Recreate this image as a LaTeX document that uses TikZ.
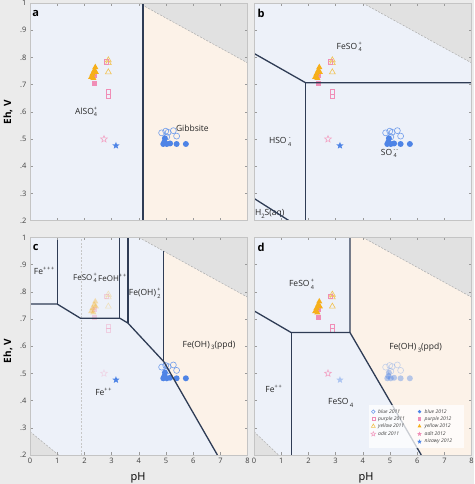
\documentclass[tikz,border=0pt]{standalone}
\usepackage{fontspec}
\setmainfont{Open Sans}
\usetikzlibrary{shapes.geometric}
\definecolor{bgc}{HTML}{EBEBEB}
\definecolor{regblue}{HTML}{EDF1F9}
\definecolor{regpeach}{HTML}{FCF2E8}
\definecolor{reggray}{HTML}{E1E1E1}
\definecolor{bnd}{HTML}{2F3C55}
\definecolor{mblue}{HTML}{4E84E6}
\definecolor{mpink}{HTML}{F08DB6}
\definecolor{morange}{HTML}{F6AF1A}
\definecolor{myellow}{HTML}{F2C14E}
\definecolor{tickc}{HTML}{9A9A9A}
\definecolor{framec}{HTML}{C4C4C4}
\newcommand\chm[2]{\makebox[0pt][l]{\raisebox{0.85ex}{\fontsize{5.5}{6}\selectfont #1}}\raisebox{-0.55ex}{\fontsize{5.5}{6}\selectfont #2}}
\newcommand\chsup[1]{\raisebox{0.85ex}{\fontsize{5.5}{6}\selectfont #1}}
\newcommand\chsub[1]{\raisebox{-0.55ex}{\fontsize{6}{6}\selectfont #1}}
\tikzset{
 bline/.style={draw=bnd, line width=1.3pt, line join=miter},
 wline/.style={draw=black!32, dash pattern=on 2pt off 1.5pt, line width=0.5pt},
 lab/.style={font=\fontsize{8.5}{9}\selectfont, text=black!85, inner sep=0pt},
 plab/.style={font=\fontsize{11}{12}\selectfont\bfseries, inner sep=0pt},
 tlab/.style={font=\fontsize{7.5}{8}\selectfont, text=black!75, inner sep=0pt},
 leg/.style={font=\fontsize{5}{5}\selectfont\itshape, text=black!75, inner sep=0pt, anchor=west},
 mk/.style={inner sep=0pt, line width=0.6pt},
 b11/.style={mk, circle, draw=mblue!80, minimum size=6pt},
 b12/.style={mk, circle, fill=mblue, minimum size=6pt},
 p11/.style={mk, rectangle, draw=mpink, minimum width=3.8pt, minimum height=4.4pt},
 p12/.style={mk, rectangle, fill=mpink, minimum size=4.7pt},
 y11/.style={mk, regular polygon, regular polygon sides=3, draw=myellow, minimum size=6.8pt},
 y12/.style={mk, regular polygon, regular polygon sides=3, fill=morange, minimum size=7.2pt},
 a11/.style={mk, star, star points=5, star point ratio=2.3, draw=mpink!80, minimum size=7pt},
 a12/.style={mk, star, star points=5, star point ratio=2.3, fill=mpink, minimum size=6pt},
 n12/.style={mk, star, star points=5, star point ratio=2.3, fill=mblue, minimum size=7.5pt},
}
\newcommand\mydata[2]{%
 \begin{scope}[opacity=#1]
  \node[y11] at (2.88,0.78) {};
  \node[p11] at (2.80,0.784) {};
  \node[y11] at (2.88,0.79) {};
  \node[y11] at (2.88,0.746) {};
  \node[p11] at (2.88,0.674) {};
  \node[p11] at (2.88,0.658) {};
  \node[p12] at (2.36,0.705) {};
  \node[p12] at (2.36,0.735) {};
  \node[y12] at (2.25,0.728) {};
  \node[y12] at (2.33,0.724) {};
  \node[y12] at (2.30,0.740) {};
  \node[y12] at (2.36,0.752) {};
  \node[y12] at (2.42,0.746) {};
  \node[y12] at (2.40,0.764) {};
  \node[a11] at (2.72,0.50) {};
 \end{scope}
 \begin{scope}[opacity=#2]
  \node[n12] at (3.16,0.476) {};
  \node[b11] at (4.84,0.523) {};
  \node[b11] at (4.99,0.529) {};
  \node[b11] at (5.08,0.525) {};
  \node[b11] at (5.27,0.531) {};
  \node[b11] at (5.39,0.511) {};
  \node[b11] at (5.03,0.508) {};
  \node[b12] at (4.90,0.482) {};
  \node[b12] at (5.03,0.482) {};
  \node[b12] at (5.15,0.484) {};
  \node[b12] at (5.39,0.482) {};
  \node[b12] at (5.73,0.482) {};
  \node[b12] at (4.96,0.503) {};
  \node[b12] at (4.94,0.490) {};
 \end{scope}}
\newcommand\myframe{%
 \foreach \i in {1,...,7} {
  \draw[tickc, line width=0.4pt] (\i,0.2) -- ++(0,3pt);
  \draw[tickc, line width=0.4pt] (\i,1) -- ++(0,-3pt);}
 \foreach \e in {3,...,9} {
  \draw[tickc, line width=0.4pt] (0,\e/10) -- ++(3pt,0);
  \draw[tickc, line width=0.4pt] (8,\e/10) -- ++(-3pt,0);}
 \draw[framec, line width=0.5pt] (0,0.2) rectangle (8,1);}
\newcommand\myylabels{%
 \foreach \e/\t in {10/1,9/.9,8/.8,7/.7,6/.6,5/.5,4/.4,3/.3,2/.2}
  \node[tlab, anchor=east] at ([xshift=-3.5pt]0,\e/10) {\t};}
\newcommand\myxlabels{%
 \foreach \i in {0,...,8}
  \node[tlab, anchor=north] at ([yshift=-3pt]\i,0.2) {\i};}
\begin{document}
\begin{tikzpicture}
\useasboundingbox (0,0) rectangle (474pt,484pt);
\fill[bgc] (0,0) rectangle (474pt,484pt);
% ---------- panel a
\begin{scope}[shift={(30pt,208.9pt)},x=27.2pt,y=272pt]
 \begin{scope}
 \clip (0,0.2) rectangle (8,1);
 \fill[regblue] (0,0.2) rectangle (8,1);
 \fill[regpeach] (4.15,0.2) rectangle (8,1);
 \fill[reggray] (4.0,1) -- (8,0.78) -- (8,1) -- cycle;
 \draw[wline] (4.0,1) -- (8,0.78);
 \coordinate (a1) at (4.15,0.2);
 \coordinate (a2) at (4.15,1);
 \draw[bline] (a1) -- (a2);
 \mydata{1}{1}
 \node[lab] (also) at (2.06,0.60) {AlSO\chm{+}{4}\hspace{1pt}};
 \node[lab] (gibb) at (5.97,0.54) {Gibbsite};
 \node[plab] (la) at (0.21,0.963) {a};
 \end{scope}
 \myframe \myylabels
\end{scope}
% ---------- panel b
\begin{scope}[shift={(254pt,208.9pt)},x=27.2pt,y=272pt]
 \begin{scope}
 \clip (0,0.2) rectangle (8,1);
 \fill[regblue] (0,0.2) rectangle (8,1);
 \fill[reggray] (4.0,1) -- (8,0.78) -- (8,1) -- cycle;
 \draw[wline] (4.0,1) -- (8,0.78);
 \mydata{1}{1}
 \node[lab] (fesob) at (3.5,0.838) {FeSO\,\chm{+}{4}\hspace{2pt}};
 \node[lab] (hso) at (0.96,0.49) {HSO\,\chm{\,-}{4}\hspace{2pt}};
 \node[lab] (so) at (4.96,0.448) {SO\,\chm{-\,-}{4}\hspace{3pt}};
 \node[lab, anchor=west] (hs) at (0.03,0.225) {H\chsub{2}S(aq)};
 \coordinate (b1) at (0,0.815);
 \coordinate (b2) at (1.9,0.707);
 \coordinate (b3) at (8,0.707);
 \coordinate (b4) at (1.9,0.2);
 \coordinate (b5) at (0,0.282);
 \coordinate (b6) at (1.29,0.2);
 \draw[bline] (b1) -- (b2) -- (b3);
 \draw[bline] (b2) -- (b4);
 \draw[bline] (b5) -- (b6);
 \node[plab] (lb) at (0.26,0.963) {b};
 \end{scope}
 \myframe
\end{scope}
% ---------- panel c
\begin{scope}[shift={(30pt,-25.4pt)},x=27.2pt,y=272pt]
 \begin{scope}
 \clip (0,0.2) rectangle (8,1);
 \fill[regblue] (0,0.2) rectangle (8,1);
 \fill[regpeach] (4.92,0.949) -- (4.92,0.543) -- (6.89,0.2) -- (8,0.2) -- (8,0.78) -- cycle;
 \fill[reggray] (4.0,1) -- (8,0.78) -- (8,1) -- cycle;
 \fill[reggray] (0,0.286) -- (1.05,0.2) -- (0,0.2) -- cycle;
 \draw[wline] (4.0,1) -- (8,0.78);
 \draw[wline] (0,0.286) -- (1.05,0.2);
 \draw[wline, draw=black!22] (1.88,0.2) -- (1.88,1);
 \mydata{0.35}{1}
 \coordinate (c1) at (0,0.755);
 \coordinate (c2) at (1.0,0.755);
 \coordinate (c3) at (1.0,1);
 \coordinate (c4) at (1.85,0.703);
 \coordinate (c5) at (3.3,0.703);
 \coordinate (c6) at (3.3,1);
 \coordinate (c7) at (3.6,0.685);
 \coordinate (c8) at (3.6,1);
 \coordinate (c9) at (4.92,0.543);
 \coordinate (c10) at (4.92,0.949);
 \coordinate (c11) at (6.89,0.2);
 \draw[bline] (c1) -- (c2) -- (c4) -- (c5) -- (c7) -- (c9) -- (c11);
 \draw[bline] (c2) -- (c3);
 \draw[bline] (c5) -- (c6);
 \draw[bline] (c7) -- (c8);
 \draw[bline] (c9) -- (c10);
 \node[lab] (fe3) at (0.52,0.876) {Fe\chsup{+\,+\,+}};
 \node[lab, anchor=west, font=\fontsize{8}{9}\selectfont] (fesoc) at (1.58,0.85) {FeSO\,\chm{+}{4}};
 \node[lab, anchor=west, font=\fontsize{8}{9}\selectfont] (feoh) at (2.5,0.85) {FeOH\chsup{+\,+}};
 \node[lab, anchor=west] (feoh2) at (3.63,0.794) {Fe(OH)\,\chm{+}{2}};
 \node[lab] (feoh3c) at (6.58,0.604) {Fe(OH)\,\chsub{3}(ppd)};
 \node[lab] (fe2c) at (2.7,0.433) {Fe\chsup{+\,+}};
 \node[plab] (lc) at (0.21,0.963) {c};
 \end{scope}
 \myframe \myylabels \myxlabels
\end{scope}
% ---------- panel d
\begin{scope}[shift={(254pt,-25.4pt)},x=27.2pt,y=272pt]
 \begin{scope}
 \clip (0,0.2) rectangle (8,1);
 \fill[regblue] (0,0.2) rectangle (8,1);
 \fill[regpeach] (3.53,1) -- (4.0,1) -- (8,0.78) -- (8,0.2) -- (6.15,0.2) -- (3.53,0.65) -- cycle;
 \fill[reggray] (4.0,1) -- (8,0.78) -- (8,1) -- cycle;
 \fill[reggray] (0,0.286) -- (0.9,0.2) -- (0,0.2) -- cycle;
 \draw[wline] (4.0,1) -- (8,0.78);
 \draw[wline] (0,0.286) -- (0.9,0.2);
 \mydata{1}{0.4}
 \coordinate (d1) at (0,0.73);
 \coordinate (d2) at (1.37,0.65);
 \coordinate (d3) at (3.53,0.65);
 \coordinate (d4) at (3.53,1);
 \coordinate (d5) at (1.37,0.2);
 \coordinate (d6) at (6.15,0.2);
 \draw[bline] (d1) -- (d2) -- (d3) -- (d4);
 \draw[bline] (d2) -- (d5);
 \draw[bline] (d3) -- (d6);
 \node[lab] (fesod) at (1.75,0.828) {FeSO\,\chm{+}{4}\hspace{2pt}};
 \node[lab] (feoh3d) at (5.94,0.594) {Fe(OH)\,\chsub{3}(ppd)};
 \node[lab] (fe2d) at (0.72,0.443) {Fe\chsup{+\,+}};
 \node[lab] (feso4) at (3.19,0.392) {FeSO\,\chsub{4}};
 \node[plab] (ld) at (0.26,0.963) {d};
 \end{scope}
 \myframe \myxlabels
\end{scope}
% ---------- legend
\fill[white, opacity=0.75] (369pt,36.3pt) rectangle (464pt,79pt);
\begin{scope}[b11/.append style={minimum size=3.6pt},b12/.append style={minimum size=3.6pt},
  p11/.append style={minimum width=3pt,minimum height=3.4pt},p12/.append style={minimum size=3.4pt},
  y11/.append style={minimum size=4.6pt},y12/.append style={minimum size=4.6pt},
  a11/.append style={minimum size=4.8pt},a12/.append style={minimum size=4.8pt},n12/.append style={minimum size=4.8pt}]
 \node[b11] (m1) at (373.3pt,72.3pt) {};
 \node[p11] (m2) at (373.3pt,65pt) {};
 \node[y11] (m3) at (373.3pt,57.7pt) {};
 \node[a11] (m4) at (373.3pt,50pt) {};
 \node[b12] (m5) at (419.5pt,72.3pt) {};
 \node[p12] (m6) at (419.5pt,65pt) {};
 \node[y12] (m7) at (419.5pt,57.7pt) {};
 \node[a12] (m8) at (419.5pt,50pt) {};
 \node[n12] (m9) at (419.5pt,42.3pt) {};
\end{scope}
\node[leg] (t1) at (378pt,72.3pt) {blue 2011};
\node[leg] (t2) at (378pt,65pt) {purple 2011};
\node[leg] (t3) at (378pt,57.7pt) {yellow 2011};
\node[leg] (t4) at (378pt,50pt) {adit 2011};
\node[leg] (t5) at (424.5pt,72.3pt) {blue 2012};
\node[leg] (t6) at (424.5pt,65pt) {purple 2012};
\node[leg] (t7) at (424.5pt,57.7pt) {yellow 2012};
\node[leg] (t8) at (424.5pt,50pt) {adit 2012};
\node[leg] (t9) at (424.5pt,42.3pt) {nizawy 2012};
% ---------- axis titles
\node[font=\fontsize{10}{11}\selectfont\bfseries, rotate=90, inner sep=0pt] (eha) at (8pt,371.5pt) {Eh, V};
\node[font=\fontsize{10}{11}\selectfont\bfseries, rotate=90, inner sep=0pt] (ehc) at (8pt,133pt) {Eh, V};
\node[font=\fontsize{11}{12}\selectfont, inner sep=0pt] (phc) at (138pt,6pt) {pH};
\node[font=\fontsize{11}{12}\selectfont, inner sep=0pt] (phd) at (366pt,6pt) {pH};
\end{tikzpicture}
\end{document}
